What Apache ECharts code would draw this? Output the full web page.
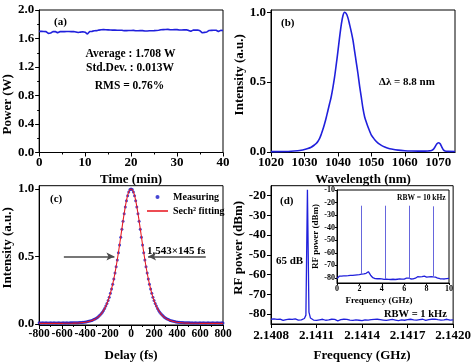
<!DOCTYPE html>
<html><head><meta charset="utf-8">
<script src="https://cdn.jsdelivr.net/npm/echarts@6/dist/echarts.min.js"></script>
<style>html,body{margin:0;padding:0;background:#fff}#c{width:474px;height:363px}</style>
</head><body><div id="c"></div>
<script>
// ---------- (a) output power stability ----------
const timeStart = 0, timeStep = 0.25;
const powerW = [1.700,1.697,1.702,1.696,1.699,1.694,1.697,1.690,1.672,1.660,1.678,1.692,1.697,1.693,1.699,1.688,1.680,1.691,1.696,1.693,
1.698,1.694,1.697,1.692,1.698,1.695,1.699,1.694,1.697,1.693,1.698,1.695,1.691,1.694,1.684,1.678,1.690,1.697,1.694,1.699,
1.688,1.668,1.662,1.682,1.698,1.703,1.700,1.706,1.709,1.712,1.710,1.716,1.718,1.715,1.722,1.720,1.724,1.719,1.722,1.717,
1.721,1.716,1.719,1.714,1.718,1.713,1.717,1.712,1.716,1.711,1.715,1.712,1.716,1.713,1.710,1.714,1.711,1.715,1.712,1.709,
1.713,1.710,1.714,1.711,1.708,1.712,1.709,1.713,1.710,1.707,1.711,1.708,1.705,1.709,1.706,1.704,1.708,1.705,1.709,1.706,
1.710,1.708,1.713,1.711,1.716,1.719,1.722,1.720,1.725,1.723,1.727,1.724,1.728,1.725,1.722,1.726,1.723,1.727,1.724,1.721,
1.725,1.722,1.719,1.723,1.720,1.724,1.721,1.718,1.722,1.719,1.714,1.706,1.702,1.712,1.718,1.721,1.718,1.722,1.719,1.714,
1.708,1.695,1.680,1.674,1.686,1.676,1.692,1.705,1.713,1.717,1.714,1.718,1.715,1.712,1.716,1.706,1.698,1.709,1.714,1.711,1.713];
const powerTicks = [0, 0.4, 0.8, 1.2, 1.6, 2.0];
const timeTicks = [0, 10, 20, 30, 40];

// ---------- (b) optical spectrum ----------
const wavelengthNm = [1020,1022,1024,1026,1028,1029,1030,1031,1032,1033,1033.5,1034,1034.5,1035,1035.5,1036,1036.5,1037,1037.5,1038,
1038.5,1039,1039.5,1040,1040.5,1041,1041.5,1042,1042.5,1043,1043.5,1044,1044.5,1045,1045.5,1046,1046.5,1047,1047.5,1048,
1048.5,1049,1049.5,1050,1050.5,1051,1052,1053,1054,1055,1056,1058,1060,1062,1064,1066,1067,1068,1068.5,1069,
1069.5,1070,1070.5,1071,1071.5,1072,1073,1075];
const spectrumInt = [0.002,0.002,0.003,0.005,0.009,0.012,0.017,0.024,0.034,0.050,0.060,0.075,0.095,0.125,0.160,0.200,0.245,0.295,0.345,0.395,
0.460,0.535,0.625,0.720,0.820,0.910,0.975,1.000,0.990,0.960,0.912,0.860,0.800,0.720,0.640,0.560,0.470,0.390,0.310,0.250,
0.212,0.178,0.148,0.120,0.104,0.088,0.063,0.047,0.036,0.027,0.021,0.013,0.009,0.007,0.006,0.006,0.007,0.010,0.018,0.035,
0.055,0.066,0.060,0.038,0.016,0.007,0.004,0.003];
const wlTicks = [1020, 1030, 1040, 1050, 1060, 1070];
const intTicks = [0, 0.5, 1.0];

// ---------- (c) autocorrelation ----------
const delayStart = -800, delayStep = 10;
const measured = [0.009,0.008,0.008,0.009,0.008,0.008,0.009,0.008,0.008,0.008,0.009,0.008,0.008,0.009,0.008,0.008,0.008,0.009,0.008,0.008,
0.008,0.009,0.008,0.008,0.009,0.008,0.008,0.009,0.009,0.009,
0.009,0.009,0.010,0.010,0.010,0.011,0.012,0.012,0.013,0.014,
0.015,0.016,0.018,0.020,0.022,0.025,0.027,0.031,0.035,0.040,
0.045,0.051,0.059,0.067,0.077,0.088,0.101,0.116,0.133,0.152,
0.175,0.199,0.228,0.259,0.295,0.334,0.377,0.424,0.474,0.528,
0.585,0.643,0.702,0.760,0.816,0.867,0.913,0.950,0.978,0.995,
1.000,
0.995,0.978,0.950,0.913,0.867,0.816,0.760,0.702,0.643,0.585,
0.528,0.474,0.424,0.377,0.334,0.295,0.259,0.228,0.199,0.175,
0.152,0.133,0.116,0.101,0.088,0.077,0.067,0.059,0.051,0.045,
0.040,0.035,0.031,0.027,0.025,0.022,0.020,0.018,0.016,0.015,
0.014,0.013,0.012,0.012,0.011,0.010,0.010,0.009,0.009,0.009,
0.009,0.008,0.009,0.008,0.008,0.009,0.008,0.008,0.008,0.009,
0.008,0.008,0.009,0.008,0.008,0.008,0.009,0.008,0.008,0.008,0.009,0.008,0.008,0.008,0.009,0.008,0.008,0.008,0.009,0.008];
const fitStep = 20;
const fitted = [0.005,0.005,0.005,0.005,0.005,0.005,0.005,0.005,0.005,0.005,
0.005,0.006,0.006,0.006,0.006,0.007,0.007,0.008,0.010,0.011,
0.013,0.017,0.021,0.026,0.034,0.044,0.057,0.076,0.100,0.132,
0.174,0.227,0.295,0.378,0.476,0.587,0.705,0.819,0.916,0.980,
1.000,
0.980,0.916,0.819,0.705,0.587,0.476,0.378,0.295,0.227,0.174,
0.132,0.100,0.076,0.057,0.044,0.034,0.026,0.021,0.017,0.013,
0.011,0.010,0.008,0.007,0.007,0.006,0.006,0.006,0.006,0.005,
0.005,0.005,0.005,0.005,0.005,0.005,0.005,0.005,0.005,0.005];
const delayTicks = [-800,-600,-400,-200,0,200,400,600,800];
const arrowLevel = 0.5;
const leftArrow = [-585, -145];
const rightArrow = [650, 148];

// ---------- (d) RF spectrum ----------
const rfStart = 2.1408, rfStep = 0.00001;
const rfPower = [-82.6,-83.1,-82.4,-83.0,-82.7,-83.3,-82.5,-82.9,-83.2,-82.6,
-82.8,-83.4,-82.5,-82.9,-82.7,-83.1,-82.4,-82.8,-83.0,-82.6,
-82.9,-82.5,-82.2,-80.5,-17.0,-79.0,-82.0,-82.6,-83.0,-82.7,
-83.2,-82.5,-82.9,-83.3,-82.6,-82.8,-83.1,-82.4,-82.9,-83.0,
-82.6,-83.2,-82.7,-82.9,-83.4,-82.5,-82.8,-83.1,-82.6,-83.0,
-82.7,-82.4,-83.0,-82.8,-83.2,-82.6,-82.9,-82.5,-83.1,-82.8,
-83.3,-82.6,-82.9,-82.7,-83.0,-82.5,-82.8,-83.2,-82.7,-82.9,
-82.6,-83.1,-82.8,-82.5,-83.0,-82.7,-83.2,-82.6,-82.9,-83.1,
-82.7,-82.5,-83.0,-82.8,-83.3,-82.6,-82.9,-82.7,-83.1,-82.5,
-82.8,-83.0,-82.6,-83.2,-82.9,-82.7,-83.0,-82.5,-82.8,-83.1,
-82.6,-82.9,-83.2,-82.7,-82.8,-83.0,-82.6,-82.9,-82.5,-83.1,
-82.8,-82.6,-83.0,-82.7,-82.9,-83.2,-82.6,-82.8,-83.0,-82.7,-82.9];
const rfFreqTicks = [2.1408, 2.1411, 2.1414, 2.1417, 2.1420];
const rfPowerTicks = [-80,-70,-60,-50,-40,-30,-20];

// ---------- (d) inset: wide-span RF spectrum ----------
const wideStart = 0, wideStep = 0.1;
const wideFloor = [-80.5,-79.0,-78.6,-78.8,-78.5,-78.7,-78.4,-78.6,-78.3,-78.5,
-78.2,-78.4,-78.0,-78.2,-77.9,-78.0,-77.7,-77.9,-77.5,-77.6,
-77.3,-77.4,-77.0,-77.1,-76.8,-76.7,-76.3,-75.6,-75.0,-74.3,
-77.8,-79.2,-79.8,-80.2,-80.5,-80.3,-80.6,-80.8,-80.6,-80.9,
-80.7,-80.9,-81.1,-80.8,-81.0,-80.7,-81.1,-80.9,-81.2,-80.8,
-81.0,-80.9,-81.2,-80.8,-81.0,-81.1,-80.8,-81.0,-80.9,-81.1,
-80.9,-80.6,-80.2,-79.8,-80.1,-80.5,-80.8,-80.9,-80.7,-80.4,
-80.2,-79.6,-79.0,-78.7,-79.2,-79.5,-79.0,-78.7,-78.5,-79.0,
-79.3,-78.9,-79.1,-79.4,-79.0,-78.8,-79.2,-79.5,-79.3,-79.8,
-80.2,-80.4,-80.6,-80.8,-80.7,-81.0,-80.8,-80.6,-80.5,-80.3,-80.4];
const spikeFreqs = [2.141, 4.282, 6.423, 8.564];
const spikeTops = [-22.5, -22.5, -22.5, -23.0];
const spikeBases = [-77.1, -80.9, -80.6, -78.9];
const wideFreqTicks = [0, 2, 4, 6, 8, 10];
const widePowerTicks = [-80,-70,-60,-50,-40,-30,-20,-10];

// ---------- build ----------
const FONT = 'Liberation Serif';
const BLUE = '#2020dc';
const pair = (start, step, vals) => vals.map((v, i) => [+(start + i * step).toFixed(6), v]);
const plain = v => String(v);

function lbl(size, margin, extra) {
  return Object.assign({ color: '#000', fontFamily: FONT, fontWeight: 'bold', fontSize: size, margin: margin,
    showMinLabel: true, showMaxLabel: true, hideOverlap: false, formatter: plain }, extra || {});
}
function nameStyle(size, padding) {
  const s = { color: '#000', fontFamily: FONT, fontWeight: 'bold', fontSize: size };
  if (padding) s.padding = padding;
  return s;
}
function ticks(len, custom) {
  const t = { show: true, inside: false, length: len, lineStyle: { color: '#000', width: 1 } };
  if (custom) t.customValues = custom;
  return t;
}
function ax(grid, opt) {
  return Object.assign({
    gridIndex: grid, type: 'value', splitLine: { show: false },
    axisLine: { show: true, onZero: false, lineStyle: { color: '#000', width: 1 } },
    nameLocation: 'middle'
  }, opt);
}
const minor = { show: true, splitNumber: 2, length: 2, lineStyle: { color: '#000' } };
const gridBox = { show: true, borderColor: '#000', borderWidth: 1, containLabel: false };

const fontBold = (s) => 'bold ' + s + 'px "' + FONT + '"';
function txt(x, y, text, size, align) {
  return { type: 'text', x: x, y: y, silent: true,
    style: { text: text, font: fontBold(size), fill: '#000', align: align || 'left', verticalAlign: 'middle' } };
}

const chart = echarts.init(document.getElementById('c'), null, { renderer: 'canvas' });
chart.setOption({
  animation: false,
  backgroundColor: '#fff',
  grid: [
    Object.assign({ left: 39, top: 10, width: 184, height: 142.5 }, gridBox),
    Object.assign({ left: 271, top: 10, width: 184, height: 142.5 }, gridBox),
    Object.assign({ left: 39, top: 185.7, width: 184, height: 142 }, gridBox),
    Object.assign({ left: 271, top: 185.7, width: 184, height: 142 }, gridBox),
    Object.assign({ left: 337, top: 190, width: 112, height: 93, backgroundColor: '#fff' }, gridBox)
  ],
  xAxis: [
    ax(0, { min: 0, max: 40, interval: 10, minorTick: minor, name: 'Time (min)', nameGap: 21,
      axisTick: ticks(4), axisLabel: lbl(13, 4), nameTextStyle: nameStyle(13) }),
    ax(1, { min: 1020, max: 1075, name: 'Wavelength (nm)', nameGap: 21,
      axisTick: ticks(4, wlTicks), axisLabel: lbl(13, 4, { customValues: wlTicks }), nameTextStyle: nameStyle(13) }),
    ax(2, { min: -800, max: 800, interval: 200, minorTick: minor, name: 'Delay (fs)', nameGap: 24,
      axisTick: ticks(4), axisLabel: lbl(11.5, 3), nameTextStyle: nameStyle(13) }),
    ax(3, { min: 2.1408, max: 2.1420, name: 'Frequency (GHz)', nameGap: 25,
      axisTick: ticks(4, rfFreqTicks), axisLabel: lbl(13, 5, { customValues: rfFreqTicks, formatter: v => v.toFixed(4) }),
      nameTextStyle: nameStyle(13) }),
    ax(4, { min: 0, max: 10, interval: 2, name: 'Frequency (GHz)', nameGap: 13,
      axisTick: ticks(2), axisLabel: lbl(8, 2), nameTextStyle: nameStyle(9, [0, 28, 0, 0]) })
  ],
  yAxis: [
    ax(0, { min: 0, max: 2, interval: 0.4, minorTick: minor, name: 'Power (W)', nameGap: 21,
      axisTick: ticks(4), axisLabel: lbl(13, 5, { formatter: v => v.toFixed(1) }), nameTextStyle: nameStyle(13, [0, 46, 0, 0]) }),
    ax(1, { min: -0.004, max: 1.0165, name: 'Intensity (a.u.)', nameGap: 22,
      axisTick: ticks(4, intTicks), axisLabel: lbl(13, 5, { customValues: intTicks, formatter: v => v.toFixed(1) }),
      nameTextStyle: nameStyle(13, [0, 0, 0, 13]) }),
    ax(2, { min: -0.007, max: 1.024, name: 'Intensity (a.u.)', nameGap: 22,
      axisTick: ticks(4, intTicks), axisLabel: lbl(13, 5, { customValues: intTicks, formatter: v => v.toFixed(1) }),
      nameTextStyle: nameStyle(13, [0, 0, 0, 15]) }),
    ax(3, { min: -85, max: -15, name: 'RF power (dBm)', nameGap: 25,
      axisTick: ticks(4, rfPowerTicks), axisLabel: lbl(13, 5, { customValues: rfPowerTicks }),
      nameTextStyle: nameStyle(13, [0, 0, 0, 14]) }),
    ax(4, { min: -84, max: -10, name: 'RF power (dBm)', nameGap: 15,
      axisTick: ticks(2, widePowerTicks), axisLabel: lbl(8, 2, { customValues: widePowerTicks }),
      nameTextStyle: nameStyle(9) })
  ],
  legend: {
    left: 142, top: 187, orient: 'vertical', itemGap: 4, itemWidth: 21, itemHeight: 4,
    textStyle: { color: '#000', fontFamily: FONT, fontWeight: 'bold', fontSize: 10 },
    data: [
      { name: 'Measuring', icon: 'circle' },
      { name: 'Sech² fitting', icon: 'path://M0,0H40V3H0Z' }
    ]
  },
  series: [
    { type: 'line', xAxisIndex: 0, yAxisIndex: 0, showSymbol: false, symbol: 'none',
      data: pair(timeStart, timeStep, powerW), lineStyle: { color: BLUE, width: 1.6 }, itemStyle: { color: BLUE } },
    { type: 'line', xAxisIndex: 1, yAxisIndex: 1, showSymbol: false, symbol: 'none', smooth: 0.3,
      data: wavelengthNm.map((w, i) => [w, spectrumInt[i]]), lineStyle: { color: BLUE, width: 1.6 }, itemStyle: { color: BLUE } },
    { name: 'Measuring', type: 'scatter', xAxisIndex: 2, yAxisIndex: 2, symbolSize: 3,
      data: pair(delayStart, delayStep, measured), itemStyle: { color: '#1818c8' } },
    { name: 'Sech² fitting', type: 'line', xAxisIndex: 2, yAxisIndex: 2, symbol: 'none', showSymbol: false, smooth: 0.3,
      data: pair(delayStart, fitStep, fitted), lineStyle: { color: '#e81c24', width: 1.1 }, itemStyle: { color: '#e81c24' },
      markLine: { silent: true, symbol: ['none', 'arrow'], symbolSize: [6, 8], label: { show: false },
        lineStyle: { color: '#4a4a4a', width: 1.5, type: 'solid' },
        data: [
          [{ coord: [leftArrow[0], arrowLevel] }, { coord: [leftArrow[1], arrowLevel] }],
          [{ coord: [rightArrow[0], arrowLevel] }, { coord: [rightArrow[1], arrowLevel] }]
        ] } },
    { type: 'line', xAxisIndex: 3, yAxisIndex: 3, showSymbol: false, symbol: 'none',
      data: pair(rfStart, rfStep, rfPower), lineStyle: { color: BLUE, width: 1.3 }, itemStyle: { color: BLUE } },
    { type: 'line', xAxisIndex: 4, yAxisIndex: 4, showSymbol: false, symbol: 'none',
      data: pair(wideStart, wideStep, wideFloor), lineStyle: { color: BLUE, width: 1.3 }, itemStyle: { color: BLUE },
      markLine: { silent: true, symbol: ['none', 'none'], label: { show: false },
        lineStyle: { color: '#6666dd', width: 1, type: 'solid' },
        data: spikeFreqs.map((f, i) => [{ coord: [f, spikeBases[i]] }, { coord: [f, spikeTops[i]] }]) } }
  ],
  graphic: [
    txt(54, 22, '(a)', 11),
    txt(130.5, 54, 'Average : 1.708 W', 11.5, 'center'),
    txt(130, 68, 'Std.Dev. : 0.013W', 11.5, 'center'),
    txt(129.5, 86, 'RMS = 0.76%', 11.5, 'center'),
    txt(281, 23, '(b)', 11),
    txt(379, 82, 'Δλ = 8.8 nm', 11),
    txt(50, 199, '(c)', 11),
    txt(147, 251, '1.543×145 fs', 11),
    txt(280, 201, '(d)', 11),
    txt(276, 261, '65 dB', 11),
    txt(384, 314, 'RBW = 1 kHz', 10.5),
    txt(397, 198, 'RBW = 10 kHz', 7.5)
  ]
});
</script></body></html>
